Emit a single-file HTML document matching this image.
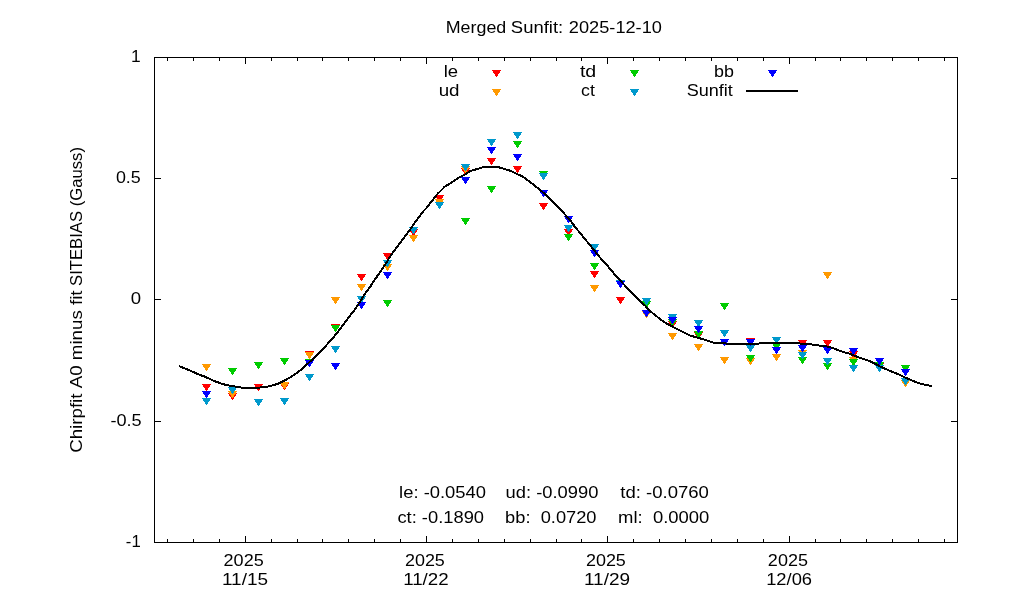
<!DOCTYPE html>
<html><head><meta charset="utf-8"><style>
html,body{margin:0;padding:0;background:#fff;width:1024px;height:600px;overflow:hidden}
svg{display:block}
text{font-family:"Liberation Sans",sans-serif;fill:#000}
</style></head><body>
<svg width="1024" height="600" viewBox="0 0 1024 600">
<rect width="1024" height="600" fill="#fff"/>
<g shape-rendering="crispEdges">
<path fill="#000" d="M154 57h804v1h-804z M154 542h804v1h-804z M154 57h1v486h-1z M957 57h1v486h-1z M167 58h1v3h-1zM167 539h1v3h-1zM193 58h1v3h-1zM193 539h1v3h-1zM219 58h1v3h-1zM219 539h1v3h-1zM245 58h1v6h-1zM245 536h1v6h-1zM271 58h1v3h-1zM271 539h1v3h-1zM297 58h1v3h-1zM297 539h1v3h-1zM322 58h1v3h-1zM322 539h1v3h-1zM348 58h1v3h-1zM348 539h1v3h-1zM374 58h1v3h-1zM374 539h1v3h-1zM400 58h1v3h-1zM400 539h1v3h-1zM426 58h1v6h-1zM426 536h1v6h-1zM452 58h1v3h-1zM452 539h1v3h-1zM478 58h1v3h-1zM478 539h1v3h-1zM504 58h1v3h-1zM504 539h1v3h-1zM530 58h1v3h-1zM530 539h1v3h-1zM556 58h1v3h-1zM556 539h1v3h-1zM581 58h1v3h-1zM581 539h1v3h-1zM607 58h1v6h-1zM607 536h1v6h-1zM633 58h1v3h-1zM633 539h1v3h-1zM659 58h1v3h-1zM659 539h1v3h-1zM685 58h1v3h-1zM685 539h1v3h-1zM711 58h1v3h-1zM711 539h1v3h-1zM737 58h1v3h-1zM737 539h1v3h-1zM763 58h1v3h-1zM763 539h1v3h-1zM789 58h1v6h-1zM789 536h1v6h-1zM815 58h1v3h-1zM815 539h1v3h-1zM840 58h1v3h-1zM840 539h1v3h-1zM866 58h1v3h-1zM866 539h1v3h-1zM892 58h1v3h-1zM892 539h1v3h-1zM918 58h1v3h-1zM918 539h1v3h-1zM944 58h1v3h-1zM944 539h1v3h-1zM155 178h6v1h-6zM951 178h6v1h-6zM155 299h6v1h-6zM951 299h6v1h-6zM155 421h6v1h-6zM951 421h6v1h-6z"/>
</g>
<g opacity="0.999"><text x="445.75" y="33" font-size="17" text-anchor="start" textLength="60.51" lengthAdjust="spacingAndGlyphs" >Merged</text><text x="510.89" y="33" font-size="17" text-anchor="start" textLength="52.33" lengthAdjust="spacingAndGlyphs" >Sunfit:</text><text x="568.85" y="33" font-size="17" text-anchor="start" textLength="93.08" lengthAdjust="spacingAndGlyphs" >2025-12-10</text><text x="131.03" y="62" font-size="17" text-anchor="start" textLength="9.68" lengthAdjust="spacingAndGlyphs" >1</text><text x="115.92" y="183" font-size="17" text-anchor="start" textLength="24.88" lengthAdjust="spacingAndGlyphs" >0.5</text><text x="130.78" y="304" font-size="17" text-anchor="start" textLength="10.35" lengthAdjust="spacingAndGlyphs" >0</text><text x="110.42" y="426" font-size="17" text-anchor="start" textLength="31.27" lengthAdjust="spacingAndGlyphs" >-0.5</text><text x="125.84" y="547" font-size="17" text-anchor="start" textLength="14.87" lengthAdjust="spacingAndGlyphs" >-1</text><text x="223.59" y="566" font-size="17" text-anchor="start" textLength="40.15" lengthAdjust="spacingAndGlyphs" >2025</text><text x="221.94" y="585" font-size="17" text-anchor="start" textLength="46.06" lengthAdjust="spacingAndGlyphs" >11/15</text><text x="404.91" y="566" font-size="17" text-anchor="start" textLength="39.96" lengthAdjust="spacingAndGlyphs" >2025</text><text x="403.16" y="585" font-size="17" text-anchor="start" textLength="45.49" lengthAdjust="spacingAndGlyphs" >11/22</text><text x="585.91" y="566" font-size="17" text-anchor="start" textLength="39.96" lengthAdjust="spacingAndGlyphs" >2025</text><text x="583.92" y="585" font-size="17" text-anchor="start" textLength="46.17" lengthAdjust="spacingAndGlyphs" >11/29</text><text x="767.87" y="566" font-size="17" text-anchor="start" textLength="40.1" lengthAdjust="spacingAndGlyphs" >2025</text><text x="766.16" y="585" font-size="17" text-anchor="start" textLength="45.92" lengthAdjust="spacingAndGlyphs" >12/06</text><text x="443.67" y="77" font-size="17" text-anchor="start" textLength="14.41" lengthAdjust="spacingAndGlyphs" >le</text><text x="438.69" y="96" font-size="17" text-anchor="start" textLength="20.87" lengthAdjust="spacingAndGlyphs" >ud</text><text x="579.93" y="77" font-size="17" text-anchor="start" textLength="16.35" lengthAdjust="spacingAndGlyphs" >td</text><text x="581.0" y="96" font-size="17" text-anchor="start" textLength="13.82" lengthAdjust="spacingAndGlyphs" >ct</text><text x="713.93" y="77" font-size="17" text-anchor="start" textLength="19.93" lengthAdjust="spacingAndGlyphs" >bb</text><text x="686.66" y="96" font-size="17" text-anchor="start" textLength="46.18" lengthAdjust="spacingAndGlyphs" >Sunfit</text><text x="399.11" y="498" font-size="17" text-anchor="start" textLength="86.95" lengthAdjust="spacingAndGlyphs" >le:&#160;-0.0540</text><text x="505.59" y="498" font-size="17" text-anchor="start" textLength="92.84" lengthAdjust="spacingAndGlyphs" >ud:&#160;-0.0990</text><text x="620.28" y="498" font-size="17" text-anchor="start" textLength="88.63" lengthAdjust="spacingAndGlyphs" >td:&#160;-0.0760</text><text x="397.41" y="523" font-size="17" text-anchor="start" textLength="86.64" lengthAdjust="spacingAndGlyphs" >ct:&#160;-0.1890</text><text x="505.12" y="523" font-size="17" text-anchor="start" textLength="91.43" lengthAdjust="spacingAndGlyphs" >bb:&#160;&#160;0.0720</text><text x="618.11" y="523" font-size="17" text-anchor="start" textLength="91.24" lengthAdjust="spacingAndGlyphs" >ml:&#160;&#160;0.0000</text><text x="82.0" y="452.85" font-size="17" text-anchor="start" textLength="162.4" lengthAdjust="spacingAndGlyphs" transform="rotate(-90 82 452.85)">Chirpfit&#160;A0&#160;minus&#160;fit</text><text x="82.0" y="285.96" font-size="17" text-anchor="start" textLength="138.94" lengthAdjust="spacingAndGlyphs" transform="rotate(-90 82 285.96)">SITEBIAS&#160;(Gauss)</text></g>
<g shape-rendering="crispEdges">
<path fill="#ff0000" d="M202 384h9v1h-9zM203 385h7v2h-7zM204 387h5v1h-5zM205 388h3v2h-3zM206 390h1v1h-1zM228 393h9v1h-9zM229 394h7v2h-7zM230 396h5v1h-5zM231 397h3v2h-3zM232 399h1v1h-1zM254 384h9v1h-9zM255 385h7v2h-7zM256 387h5v1h-5zM257 388h3v2h-3zM258 390h1v1h-1zM280 383h9v1h-9zM281 384h7v2h-7zM282 386h5v1h-5zM283 387h3v2h-3zM284 389h1v1h-1zM305 351h9v1h-9zM306 352h7v2h-7zM307 354h5v1h-5zM308 355h3v2h-3zM309 357h1v1h-1zM331 324h9v1h-9zM332 325h7v2h-7zM333 327h5v1h-5zM334 328h3v2h-3zM335 330h1v1h-1zM357 274h9v1h-9zM358 275h7v2h-7zM359 277h5v1h-5zM360 278h3v2h-3zM361 280h1v1h-1zM383 253h9v1h-9zM384 254h7v2h-7zM385 256h5v1h-5zM386 257h3v2h-3zM387 259h1v1h-1zM409 229h9v1h-9zM410 230h7v2h-7zM411 232h5v1h-5zM412 233h3v2h-3zM413 235h1v1h-1zM435 195h9v1h-9zM436 196h7v2h-7zM437 198h5v1h-5zM438 199h3v2h-3zM439 201h1v1h-1zM461 168h9v1h-9zM462 169h7v2h-7zM463 171h5v1h-5zM464 172h3v2h-3zM465 174h1v1h-1zM487 158h9v1h-9zM488 159h7v2h-7zM489 161h5v1h-5zM490 162h3v2h-3zM491 164h1v1h-1zM513 166h9v1h-9zM514 167h7v2h-7zM515 169h5v1h-5zM516 170h3v2h-3zM517 172h1v1h-1zM539 203h9v1h-9zM540 204h7v2h-7zM541 206h5v1h-5zM542 207h3v2h-3zM543 209h1v1h-1zM564 229h9v1h-9zM565 230h7v2h-7zM566 232h5v1h-5zM567 233h3v2h-3zM568 235h1v1h-1zM590 271h9v1h-9zM591 272h7v2h-7zM592 274h5v1h-5zM593 275h3v2h-3zM594 277h1v1h-1zM616 297h9v1h-9zM617 298h7v2h-7zM618 300h5v1h-5zM619 301h3v2h-3zM620 303h1v1h-1zM668 321h9v1h-9zM669 322h7v2h-7zM670 324h5v1h-5zM671 325h3v2h-3zM672 327h1v1h-1zM694 332h9v1h-9zM695 333h7v2h-7zM696 335h5v1h-5zM697 336h3v2h-3zM698 338h1v1h-1zM746 338h9v1h-9zM747 339h7v2h-7zM748 341h5v1h-5zM749 342h3v2h-3zM750 344h1v1h-1zM798 340h9v1h-9zM799 341h7v2h-7zM800 343h5v1h-5zM801 344h3v2h-3zM802 346h1v1h-1zM823 340h9v1h-9zM824 341h7v2h-7zM825 343h5v1h-5zM826 344h3v2h-3zM827 346h1v1h-1zM849 351h9v1h-9zM850 352h7v2h-7zM851 354h5v1h-5zM852 355h3v2h-3zM853 357h1v1h-1zM875 363h9v1h-9zM876 364h7v2h-7zM877 366h5v1h-5zM878 367h3v2h-3zM879 369h1v1h-1z"/><path fill="#ff9900" d="M202 364h9v1h-9zM203 365h7v2h-7zM204 367h5v1h-5zM205 368h3v2h-3zM206 370h1v1h-1zM228 391h9v1h-9zM229 392h7v2h-7zM230 394h5v1h-5zM231 395h3v2h-3zM232 397h1v1h-1zM280 382h9v1h-9zM281 383h7v2h-7zM282 385h5v1h-5zM283 386h3v2h-3zM284 388h1v1h-1zM305 352h9v1h-9zM306 353h7v2h-7zM307 355h5v1h-5zM308 356h3v2h-3zM309 358h1v1h-1zM331 297h9v1h-9zM332 298h7v2h-7zM333 300h5v1h-5zM334 301h3v2h-3zM335 303h1v1h-1zM357 284h9v1h-9zM358 285h7v2h-7zM359 287h5v1h-5zM360 288h3v2h-3zM361 290h1v1h-1zM383 264h9v1h-9zM384 265h7v2h-7zM385 267h5v1h-5zM386 268h3v2h-3zM387 270h1v1h-1zM409 235h9v1h-9zM410 236h7v2h-7zM411 238h5v1h-5zM412 239h3v2h-3zM413 241h1v1h-1zM435 199h9v1h-9zM436 200h7v2h-7zM437 202h5v1h-5zM438 203h3v2h-3zM439 205h1v1h-1zM461 166h9v1h-9zM462 167h7v2h-7zM463 169h5v1h-5zM464 170h3v2h-3zM465 172h1v1h-1zM590 285h9v1h-9zM591 286h7v2h-7zM592 288h5v1h-5zM593 289h3v2h-3zM594 291h1v1h-1zM642 311h9v1h-9zM643 312h7v2h-7zM644 314h5v1h-5zM645 315h3v2h-3zM646 317h1v1h-1zM668 333h9v1h-9zM669 334h7v2h-7zM670 336h5v1h-5zM671 337h3v2h-3zM672 339h1v1h-1zM694 344h9v1h-9zM695 345h7v2h-7zM696 347h5v1h-5zM697 348h3v2h-3zM698 350h1v1h-1zM720 357h9v1h-9zM721 358h7v2h-7zM722 360h5v1h-5zM723 361h3v2h-3zM724 363h1v1h-1zM746 358h9v1h-9zM747 359h7v2h-7zM748 361h5v1h-5zM749 362h3v2h-3zM750 364h1v1h-1zM772 354h9v1h-9zM773 355h7v2h-7zM774 357h5v1h-5zM775 358h3v2h-3zM776 360h1v1h-1zM798 350h9v1h-9zM799 351h7v2h-7zM800 353h5v1h-5zM801 354h3v2h-3zM802 356h1v1h-1zM823 272h9v1h-9zM824 273h7v2h-7zM825 275h5v1h-5zM826 276h3v2h-3zM827 278h1v1h-1zM849 357h9v1h-9zM850 358h7v2h-7zM851 360h5v1h-5zM852 361h3v2h-3zM853 363h1v1h-1zM901 380h9v1h-9zM902 381h7v2h-7zM903 383h5v1h-5zM904 384h3v2h-3zM905 386h1v1h-1z"/><path fill="#00cc00" d="M228 368h9v1h-9zM229 369h7v2h-7zM230 371h5v1h-5zM231 372h3v2h-3zM232 374h1v1h-1zM254 362h9v1h-9zM255 363h7v2h-7zM256 365h5v1h-5zM257 366h3v2h-3zM258 368h1v1h-1zM280 358h9v1h-9zM281 359h7v2h-7zM282 361h5v1h-5zM283 362h3v2h-3zM284 364h1v1h-1zM305 359h9v1h-9zM306 360h7v2h-7zM307 362h5v1h-5zM308 363h3v2h-3zM309 365h1v1h-1zM331 325h9v1h-9zM332 326h7v2h-7zM333 328h5v1h-5zM334 329h3v2h-3zM335 331h1v1h-1zM383 300h9v1h-9zM384 301h7v2h-7zM385 303h5v1h-5zM386 304h3v2h-3zM387 306h1v1h-1zM461 218h9v1h-9zM462 219h7v2h-7zM463 221h5v1h-5zM464 222h3v2h-3zM465 224h1v1h-1zM487 186h9v1h-9zM488 187h7v2h-7zM489 189h5v1h-5zM490 190h3v2h-3zM491 192h1v1h-1zM513 141h9v1h-9zM514 142h7v2h-7zM515 144h5v1h-5zM516 145h3v2h-3zM517 147h1v1h-1zM539 171h9v1h-9zM540 172h7v2h-7zM541 174h5v1h-5zM542 175h3v2h-3zM543 177h1v1h-1zM564 234h9v1h-9zM565 235h7v2h-7zM566 237h5v1h-5zM567 238h3v2h-3zM568 240h1v1h-1zM590 263h9v1h-9zM591 264h7v2h-7zM592 266h5v1h-5zM593 267h3v2h-3zM594 269h1v1h-1zM642 301h9v1h-9zM643 302h7v2h-7zM644 304h5v1h-5zM645 305h3v2h-3zM646 307h1v1h-1zM668 319h9v1h-9zM669 320h7v2h-7zM670 322h5v1h-5zM671 323h3v2h-3zM672 325h1v1h-1zM694 331h9v1h-9zM695 332h7v2h-7zM696 334h5v1h-5zM697 335h3v2h-3zM698 337h1v1h-1zM720 303h9v1h-9zM721 304h7v2h-7zM722 306h5v1h-5zM723 307h3v2h-3zM724 309h1v1h-1zM746 355h9v1h-9zM747 356h7v2h-7zM748 358h5v1h-5zM749 359h3v2h-3zM750 361h1v1h-1zM772 343h9v1h-9zM773 344h7v2h-7zM774 346h5v1h-5zM775 347h3v2h-3zM776 349h1v1h-1zM798 357h9v1h-9zM799 358h7v2h-7zM800 360h5v1h-5zM801 361h3v2h-3zM802 363h1v1h-1zM823 363h9v1h-9zM824 364h7v2h-7zM825 366h5v1h-5zM826 367h3v2h-3zM827 369h1v1h-1zM849 359h9v1h-9zM850 360h7v2h-7zM851 362h5v1h-5zM852 363h3v2h-3zM853 365h1v1h-1zM875 362h9v1h-9zM876 363h7v2h-7zM877 365h5v1h-5zM878 366h3v2h-3zM879 368h1v1h-1zM901 365h9v1h-9zM902 366h7v2h-7zM903 368h5v1h-5zM904 369h3v2h-3zM905 371h1v1h-1z"/><path fill="#0099cc" d="M202 398h9v1h-9zM203 399h7v2h-7zM204 401h5v1h-5zM205 402h3v2h-3zM206 404h1v1h-1zM228 387h9v1h-9zM229 388h7v2h-7zM230 390h5v1h-5zM231 391h3v2h-3zM232 393h1v1h-1zM254 399h9v1h-9zM255 400h7v2h-7zM256 402h5v1h-5zM257 403h3v2h-3zM258 405h1v1h-1zM280 398h9v1h-9zM281 399h7v2h-7zM282 401h5v1h-5zM283 402h3v2h-3zM284 404h1v1h-1zM305 374h9v1h-9zM306 375h7v2h-7zM307 377h5v1h-5zM308 378h3v2h-3zM309 380h1v1h-1zM331 346h9v1h-9zM332 347h7v2h-7zM333 349h5v1h-5zM334 350h3v2h-3zM335 352h1v1h-1zM357 296h9v1h-9zM358 297h7v2h-7zM359 299h5v1h-5zM360 300h3v2h-3zM361 302h1v1h-1zM383 260h9v1h-9zM384 261h7v2h-7zM385 263h5v1h-5zM386 264h3v2h-3zM387 266h1v1h-1zM409 227h9v1h-9zM410 228h7v2h-7zM411 230h5v1h-5zM412 231h3v2h-3zM413 233h1v1h-1zM435 202h9v1h-9zM436 203h7v2h-7zM437 205h5v1h-5zM438 206h3v2h-3zM439 208h1v1h-1zM461 164h9v1h-9zM462 165h7v2h-7zM463 167h5v1h-5zM464 168h3v2h-3zM465 170h1v1h-1zM487 139h9v1h-9zM488 140h7v2h-7zM489 142h5v1h-5zM490 143h3v2h-3zM491 145h1v1h-1zM513 132h9v1h-9zM514 133h7v2h-7zM515 135h5v1h-5zM516 136h3v2h-3zM517 138h1v1h-1zM539 173h9v1h-9zM540 174h7v2h-7zM541 176h5v1h-5zM542 177h3v2h-3zM543 179h1v1h-1zM564 225h9v1h-9zM565 226h7v2h-7zM566 228h5v1h-5zM567 229h3v2h-3zM568 231h1v1h-1zM590 244h9v1h-9zM591 245h7v2h-7zM592 247h5v1h-5zM593 248h3v2h-3zM594 250h1v1h-1zM616 280h9v1h-9zM617 281h7v2h-7zM618 283h5v1h-5zM619 284h3v2h-3zM620 286h1v1h-1zM642 298h9v1h-9zM643 299h7v2h-7zM644 301h5v1h-5zM645 302h3v2h-3zM646 304h1v1h-1zM668 314h9v1h-9zM669 315h7v2h-7zM670 317h5v1h-5zM671 318h3v2h-3zM672 320h1v1h-1zM694 320h9v1h-9zM695 321h7v2h-7zM696 323h5v1h-5zM697 324h3v2h-3zM698 326h1v1h-1zM720 330h9v1h-9zM721 331h7v2h-7zM722 333h5v1h-5zM723 334h3v2h-3zM724 336h1v1h-1zM746 345h9v1h-9zM747 346h7v2h-7zM748 348h5v1h-5zM749 349h3v2h-3zM750 351h1v1h-1zM772 337h9v1h-9zM773 338h7v2h-7zM774 340h5v1h-5zM775 341h3v2h-3zM776 343h1v1h-1zM798 352h9v1h-9zM799 353h7v2h-7zM800 355h5v1h-5zM801 356h3v2h-3zM802 358h1v1h-1zM823 358h9v1h-9zM824 359h7v2h-7zM825 361h5v1h-5zM826 362h3v2h-3zM827 364h1v1h-1zM849 365h9v1h-9zM850 366h7v2h-7zM851 368h5v1h-5zM852 369h3v2h-3zM853 371h1v1h-1zM875 365h9v1h-9zM876 366h7v2h-7zM877 368h5v1h-5zM878 369h3v2h-3zM879 371h1v1h-1zM901 378h9v1h-9zM902 379h7v2h-7zM903 381h5v1h-5zM904 382h3v2h-3zM905 384h1v1h-1z"/><path fill="#0000ff" d="M202 391h9v1h-9zM203 392h7v2h-7zM204 394h5v1h-5zM205 395h3v2h-3zM206 397h1v1h-1zM305 360h9v1h-9zM306 361h7v2h-7zM307 363h5v1h-5zM308 364h3v2h-3zM309 366h1v1h-1zM331 363h9v1h-9zM332 364h7v2h-7zM333 366h5v1h-5zM334 367h3v2h-3zM335 369h1v1h-1zM357 302h9v1h-9zM358 303h7v2h-7zM359 305h5v1h-5zM360 306h3v2h-3zM361 308h1v1h-1zM383 272h9v1h-9zM384 273h7v2h-7zM385 275h5v1h-5zM386 276h3v2h-3zM387 278h1v1h-1zM461 177h9v1h-9zM462 178h7v2h-7zM463 180h5v1h-5zM464 181h3v2h-3zM465 183h1v1h-1zM487 147h9v1h-9zM488 148h7v2h-7zM489 150h5v1h-5zM490 151h3v2h-3zM491 153h1v1h-1zM513 154h9v1h-9zM514 155h7v2h-7zM515 157h5v1h-5zM516 158h3v2h-3zM517 160h1v1h-1zM539 190h9v1h-9zM540 191h7v2h-7zM541 193h5v1h-5zM542 194h3v2h-3zM543 196h1v1h-1zM564 216h9v1h-9zM565 217h7v2h-7zM566 219h5v1h-5zM567 220h3v2h-3zM568 222h1v1h-1zM590 250h9v1h-9zM591 251h7v2h-7zM592 253h5v1h-5zM593 254h3v2h-3zM594 256h1v1h-1zM616 281h9v1h-9zM617 282h7v2h-7zM618 284h5v1h-5zM619 285h3v2h-3zM620 287h1v1h-1zM642 310h9v1h-9zM643 311h7v2h-7zM644 313h5v1h-5zM645 314h3v2h-3zM646 316h1v1h-1zM668 317h9v1h-9zM669 318h7v2h-7zM670 320h5v1h-5zM671 321h3v2h-3zM672 323h1v1h-1zM694 326h9v1h-9zM695 327h7v2h-7zM696 329h5v1h-5zM697 330h3v2h-3zM698 332h1v1h-1zM720 339h9v1h-9zM721 340h7v2h-7zM722 342h5v1h-5zM723 343h3v2h-3zM724 345h1v1h-1zM746 339h9v1h-9zM747 340h7v2h-7zM748 342h5v1h-5zM749 343h3v2h-3zM750 345h1v1h-1zM772 347h9v1h-9zM773 348h7v2h-7zM774 350h5v1h-5zM775 351h3v2h-3zM776 353h1v1h-1zM798 345h9v1h-9zM799 346h7v2h-7zM800 348h5v1h-5zM801 349h3v2h-3zM802 351h1v1h-1zM823 347h9v1h-9zM824 348h7v2h-7zM825 350h5v1h-5zM826 351h3v2h-3zM827 353h1v1h-1zM849 348h9v1h-9zM850 349h7v2h-7zM851 351h5v1h-5zM852 352h3v2h-3zM853 354h1v1h-1zM875 358h9v1h-9zM876 359h7v2h-7zM877 361h5v1h-5zM878 362h3v2h-3zM879 364h1v1h-1zM901 369h9v1h-9zM902 370h7v2h-7zM903 372h5v1h-5zM904 373h3v2h-3zM905 375h1v1h-1z"/>
<path fill="#000" d="M746 90h52v2h-52z"/>
<path fill="#ff0000" d="M492 70h9v1h-9zM493 71h7v2h-7zM494 73h5v1h-5zM495 74h3v2h-3zM496 76h1v1h-1z"/>
<path fill="#ff9900" d="M492 89h9v1h-9zM493 90h7v2h-7zM494 92h5v1h-5zM495 93h3v2h-3zM496 95h1v1h-1z"/>
<path fill="#00cc00" d="M630 70h9v1h-9zM631 71h7v2h-7zM632 73h5v1h-5zM633 74h3v2h-3zM634 76h1v1h-1z"/>
<path fill="#0099cc" d="M630 89h9v1h-9zM631 90h7v2h-7zM632 92h5v1h-5zM633 93h3v2h-3zM634 95h1v1h-1z"/>
<path fill="#0000ff" d="M768 70h9v1h-9zM769 71h7v2h-7zM770 73h5v1h-5zM771 74h3v2h-3zM772 76h1v1h-1z"/>
</g>
<path d="M179.0 366.0 L186.7 369.2 L195.0 372.7 L198.2 374.2 L200.0 375.0 L202.2 375.7 L205.0 376.7 L209.7 378.9 L215.0 381.3 L220.3 383.2 L225.0 384.7 L227.8 385.3 L230.0 385.7 L232.9 386.2 L236.0 386.7 L238.9 387.2 L242.0 387.6 L246.1 387.9 L250.0 388.0 L252.4 388.0 L255.0 387.9 L260.0 387.5 L265.0 387.0 L267.9 386.5 L270.0 386.0 L272.1 385.5 L274.0 385.0 L275.6 384.5 L277.0 384.0 L278.4 383.5 L280.0 382.8 L282.4 381.6 L285.0 380.2 L287.5 378.9 L290.0 377.6 L292.5 376.0 L295.0 374.2 L297.5 372.4 L300.0 370.5 L302.5 368.4 L305.0 366.2 L307.5 363.9 L310.0 361.6 L312.5 359.2 L315.0 356.7 L317.5 354.2 L320.0 351.7 L322.5 349.2 L325.0 346.7 L327.5 344.0 L330.0 341.2 L332.5 338.4 L335.0 335.4 L337.5 332.4 L340.0 329.2 L342.5 325.8 L345.0 322.3 L347.5 319.0 L350.0 315.7 L352.5 312.6 L355.0 309.3 L357.5 305.6 L360.0 301.7 L362.5 297.7 L365.0 293.8 L367.5 290.4 L370.0 287.0 L372.5 283.2 L375.0 279.4 L377.5 275.8 L380.0 272.2 L382.5 268.7 L385.0 265.0 L387.5 260.9 L390.0 256.8 L392.5 253.1 L395.0 249.7 L397.5 246.4 L400.0 243.2 L402.2 240.2 L404.5 237.0 L407.5 233.0 L410.5 229.0 L412.7 225.8 L414.5 223.0 L416.1 220.9 L417.5 219.0 L419.0 217.0 L420.5 215.0 L422.0 212.9 L423.5 211.0 L424.9 209.6 L426.5 208.0 L428.5 205.3 L430.5 202.5 L432.1 200.7 L433.5 199.0 L435.0 197.0 L436.5 195.0 L438.0 193.4 L439.5 192.0 L441.0 190.5 L442.5 189.0 L444.0 187.4 L445.5 186.0 L447.0 185.2 L448.5 184.5 L449.9 183.6 L451.5 182.5 L453.4 181.2 L455.5 179.8 L457.7 178.3 L460.0 176.9 L462.5 175.7 L465.0 174.5 L467.6 172.8 L470.0 171.3 L472.1 170.5 L474.0 170.0 L475.5 169.5 L477.0 169.0 L478.7 168.5 L480.5 168.0 L482.1 167.4 L484.0 167.0 L486.8 166.9 L490.0 166.9 L493.6 166.9 L497.0 167.0 L499.2 167.4 L501.0 168.0 L502.8 168.5 L504.5 169.0 L506.0 169.5 L507.5 170.0 L509.2 170.4 L511.0 171.0 L512.9 172.0 L515.0 173.1 L517.4 174.2 L520.0 175.3 L522.5 176.6 L525.0 178.2 L527.5 180.1 L530.0 182.1 L532.5 183.9 L535.0 185.8 L537.5 187.9 L540.0 190.0 L542.5 192.0 L545.0 194.1 L547.5 196.6 L550.0 199.1 L552.5 201.4 L555.0 203.7 L557.5 206.3 L560.0 209.1 L562.5 211.8 L565.0 214.5 L567.5 217.2 L570.0 220.0 L572.5 223.4 L575.0 226.9 L577.5 229.9 L580.0 232.9 L582.5 236.1 L585.0 239.2 L587.5 242.1 L590.0 245.0 L592.5 248.2 L595.0 251.4 L597.5 254.5 L600.0 257.5 L602.5 260.2 L605.0 262.8 L607.5 265.8 L610.0 268.8 L612.5 271.8 L615.0 274.7 L617.5 277.4 L620.0 280.1 L622.5 282.9 L625.0 285.6 L627.5 288.3 L630.0 290.9 L632.5 293.6 L635.0 296.3 L637.5 298.8 L640.0 301.2 L642.5 303.3 L645.0 305.5 L647.5 308.2 L650.0 310.9 L652.5 313.0 L655.0 315.0 L657.5 317.0 L660.0 318.9 L662.5 320.8 L665.0 322.6 L667.5 324.0 L670.0 325.3 L672.5 326.6 L675.0 327.9 L677.5 329.2 L680.0 330.5 L682.5 331.8 L685.0 333.1 L687.5 334.3 L690.0 335.4 L692.5 336.2 L695.0 336.9 L697.5 337.6 L700.0 338.4 L702.5 339.1 L705.0 339.9 L707.6 340.7 L710.0 341.5 L711.4 342.1 L713.0 342.5 L716.3 342.8 L720.0 343.0 L722.6 343.3 L726.0 343.5 L732.2 343.8 L740.0 343.9 L749.1 343.8 L759.0 343.5 L769.4 343.1 L780.0 342.8 L790.6 343.1 L800.0 343.5 L806.4 343.9 L811.0 344.4 L814.2 344.8 L817.0 345.3 L820.5 345.7 L824.0 346.2 L826.8 346.5 L830.0 347.2 L834.8 348.9 L840.0 350.9 L845.0 352.4 L850.0 353.9 L855.0 355.9 L860.0 357.9 L865.0 359.5 L870.0 361.3 L875.0 363.8 L880.0 366.4 L885.0 368.7 L890.0 370.8 L895.3 373.0 L900.0 375.0 L902.8 376.4 L905.0 377.5 L907.5 378.5 L910.0 379.5 L912.5 380.6 L915.0 381.8 L917.5 382.7 L920.0 383.5 L922.5 384.2 L925.0 384.8 L927.7 385.3 L930.0 385.8 L931.3 385.9 L932.0 386.0" fill="none" stroke="#000" stroke-width="2" stroke-linejoin="round" shape-rendering="crispEdges"/>
</svg>
</body></html>
